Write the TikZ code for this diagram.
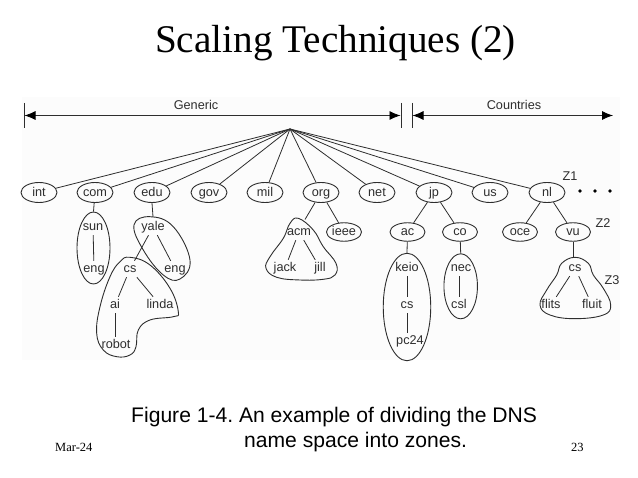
\documentclass[tikz,border=0pt]{standalone}
\usepackage{fontspec}
\setmainfont{Liberation Serif}
\newfontfamily\arialfont{Liberation Sans}
\usetikzlibrary{shapes.geometric,arrows.meta}
\definecolor{ink}{HTML}{2E2E2E}
\definecolor{figbg}{HTML}{FCFCFC}
\tikzset{
  lab/.style={font=\arialfont\fontsize{12.7}{14}\selectfont,text=ink,inner sep=2pt,text height=10pt,text depth=2pt},
  oval/.style={lab,shape=ellipse,draw=ink,line width=0.9pt,minimum width=36pt,minimum height=20pt,inner sep=0pt},
  ovalb/.style={oval,minimum width=35pt,minimum height=18.5pt},
  zone/.style={shape=ellipse,draw=ink,line width=0.9pt,inner sep=0pt},
  blob/.style={draw=ink,line width=0.9pt,smooth cycle,tension=0.7},
  link/.style={draw=ink,line width=0.8pt},
  span/.style={draw=ink,line width=0.8pt,{Latex[length=11pt,width=9pt,black]}-{Latex[length=11pt,width=9pt,black]}},
  tick/.style={draw=ink,line width=0.7pt},
  footer/.style={font=\fontsize{12.5}{15}\selectfont,text=black,inner sep=0pt},
  caption/.style={font=\arialfont\frenchspacing\fontsize{21.1}{25}\selectfont,text=black,inner sep=0pt},
  dot/.style={shape=circle,fill=black,inner sep=0pt,minimum size=3.6pt}
}
\begin{document}
\begin{tikzpicture}[x=1pt,y=-1pt]
\useasboundingbox (0,0) rectangle (638,478);
\fill[white] (0,0) rectangle (638,478);
\fill[figbg] (22,97) rectangle (620,360);

\node[font=\fontsize{39.2}{44}\selectfont,inner sep=0pt,anchor=base] (title) at (335.5,53) {Scaling Techniques (2)};

% spans
\coordinate (g1t) at (24,103); \coordinate (g1b) at (24,128);
\coordinate (g2t) at (401,103); \coordinate (g2b) at (401,128);
\coordinate (c1t) at (412,103); \coordinate (c1b) at (412,128);
\coordinate (gl) at (24.5,115.5); \coordinate (gr) at (400.5,115.5);
\coordinate (cl) at (412.5,115.5); \coordinate (cr) at (613,115.5);
\draw[tick] (g1t) -- (g1b);
\draw[tick] (g2t) -- (g2b);
\draw[tick] (c1t) -- (c1b);
\draw[span] (gl) -- (gr);
\draw[span] (cl) -- (cr);
\node[lab] (generic) at (196,105.5) {Generic};
\node[lab] (countries) at (514,105.5) {Countries};

% top level
\coordinate (root) at (290,129);
\foreach \n/\x in {int/39,com/95,edu/152,gov/209,mil/265,org/321,net/377,jp/434,us/490,nl/547}{
  \node[oval] (\n) at (\x,192.5) {\n};
  \draw[link] (root) -- (\n);
}

% second level
\node[ovalb] (ieee) at (344,232) {ieee};
\node[ovalb] (ac) at (407.5,232) {ac};
\node[ovalb] (co) at (460,232) {co};
\node[ovalb] (oce) at (520,232) {oce};
\node[ovalb] (vu) at (573,232) {vu};

% zones
\node[zone,minimum width=33pt,minimum height=72pt] (sunzone) at (93.5,248) {};
\node[zone,minimum width=47.5pt,minimum height=107.5pt] (keiozone) at (407,307) {};
\node[zone,minimum width=33.5pt,minimum height=65pt] (neczone) at (460.7,286.3) {};
\draw[blob] plot coordinates {(134,225) (150,216.7) (173.3,226.7) (190,260) (180,279) (163.3,275) (143.3,250)};
\draw[blob] plot coordinates {(130,257.3) (150,265) (170,288.3) (178.3,311.7) (173.3,316.7) (150,320) (138.3,330) (136,346.7) (130,355) (116.7,356.7) (103.3,350) (96.7,333.3) (100,306.7) (110,276.7) (120,261.7)};
\draw[blob] plot coordinates {(298.3,218.3) (313.3,230) (323.3,246.7) (336,263.3) (335,275) (323.3,279.3) (300,280) (276.7,277.3) (266,268.3) (270,256.7) (283.3,238.3) (290,223.3)};
\draw[blob] plot coordinates {(575,257.3) (588.3,263.3) (593.3,275) (603.3,288.3) (610.7,305) (603.3,315) (575,318.7) (550,315) (540,305) (546.7,290) (556.7,275) (561.7,263.3)};
\coordinate (yaletop) at (153,216.8);
\coordinate (acmtop) at (305,219.5);
\coordinate (cstop) at (573,257);

% labels in zones
\node[lab] (sun) at (93,227) {sun};
\node[lab] (enga) at (94,269) {eng};
\node[lab] (yale) at (153,227) {yale};
\node[lab] (engb) at (175,269) {eng};
\node[lab] (csa) at (130,269) {cs};
\node[lab] (ai) at (115,305) {ai};
\node[lab] (linda) at (160,305) {linda};
\node[lab] (robot) at (116,345) {robot};
\node[lab] (acm) at (299,232) {acm};
\node[lab] (jack) at (285,268) {jack};
\node[lab] (jill) at (320,268) {jill};
\node[lab] (keio) at (407,268) {keio};
\node[lab] (csb) at (407,305) {cs};
\node[lab] (pc) at (410,341) {pc24};
\node[lab] (nec) at (461,268) {nec};
\node[lab] (csl) at (459,305) {csl};
\node[lab] (csc) at (575,268) {cs};
\node[lab] (flits) at (551,305) {flits};
\node[lab] (fluit) at (592,305) {fluit};
\node[lab] (z1) at (570,177) {Z1};
\node[lab] (z2) at (603,224) {Z2};
\node[lab] (z3) at (612,281) {Z3};

% tree links
\draw[link] (com) -- (sunzone.north);
\draw[link] (sun) -- (enga);
\draw[link] (edu.south) -- (yaletop);
\draw[link] (yale) -- (engb);
\draw[link] (yale) -- (csa);
\draw[link] (csa) -- (ai);
\draw[link] (csa) -- (linda);
\draw[link] (ai) -- (ai|-robot.north);
\draw[link] (org) -- (acmtop);
\draw[link] (org) -- (ieee);
\draw[link] (acm) -- (jack);
\draw[link] (acm) -- (jill);
\draw[link] (jp) -- (ac);
\draw[link] (jp) -- (co);
\draw[link] (ac) -- (keiozone.north);
\draw[link] (keio) -- (csb);
\draw[link] (csb) -- (csb|-pc.north);
\draw[link] (co) -- (neczone.north);
\draw[link] (csl|-nec.south) -- (csl);
\draw[link] (nl) -- (oce);
\draw[link] (nl) -- (vu);
\draw[link] (vu) -- (cstop);
\draw[link] (csc) -- (flits);
\draw[link] (csc) -- (fluit);

\node[dot] (d1) at (580,191) {};
\node[dot] (d2) at (595,191) {};
\node[dot] (d3) at (610,191) {};

% caption
\node[caption,anchor=base west] (cap1) at (131,423) {Figure 1-4. An example of dividing the DNS};
\node[caption,anchor=base west] (cap2) at (244,447.5) {name space into zones.};
\node[footer,anchor=base west] (date) at (55,452) {Mar-24};
\node[footer,anchor=base west] (page) at (571,452) {23};
\end{tikzpicture}
\end{document}
